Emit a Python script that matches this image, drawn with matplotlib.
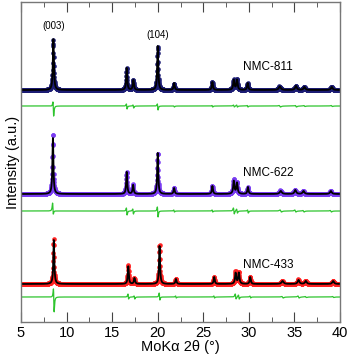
import numpy as np
import matplotlib
matplotlib.use("Agg")
import matplotlib.pyplot as plt

plt.rcParams['font.family'] = ['Liberation Sans', 'DejaVu Sans']

# peak positions (deg 2theta), heights and half widths
pos_811 = [8.55, 16.6, 17.33, 20.0, 21.8, 26.0, 28.35, 28.7, 29.87, 33.4, 35.17, 36.1, 39.1]
hgt_811 = [52, 22, 10, 44, 7, 8, 10, 10, 7, 3.5, 4, 3, 3]
pos_622 = [8.5, 16.6, 17.3, 20.0, 21.8, 26.0, 28.35, 28.7, 29.9, 33.5, 35.1, 36.0, 39.0]
hgt_622 = [56, 22, 9, 41, 6, 8, 13, 11, 7, 3, 4, 3, 3]
pos_433 = [8.6, 16.77, 17.45, 20.2, 22.0, 26.2, 28.55, 28.9, 30.15, 33.7, 35.45, 36.25, 39.25]
hgt_433 = [44, 18, 6, 38, 5, 7, 11, 11, 7, 3, 4, 3, 3]
hwhm = [0.065, 0.065, 0.07, 0.065, 0.07, 0.07, 0.08, 0.08, 0.07, 0.13, 0.11, 0.11, 0.11]

# difference curve: swing above / below zero at each peak (up, down)
dif_811 = [(4, 10), (2, 3), (1, 2), (2, 4), (0, 1), (0.5, 1), (1, 1), (1, 1), (0.5, 1), (0.5, 1), (0.5, 1), (0.5, 0.5), (0.5, 0.5)]
dif_622 = [(8, 3), (3, 4), (2, 3), (4, 6), (1, 1), (1, 1), (3, 3), (2, 2), (1, 2), (1, 1), (1, 1), (0.5, 1), (0.5, 1)]
dif_433 = [(8, 15), (3, 2), (1, 2), (4, 3), (1, 1), (1, 1), (3, 2), (2, 2), (1, 1), (0.5, 1), (1, 1), (0.5, 0.5), (0.5, 0.5)]

labels = ["NMC-811", "NMC-622", "NMC-433"]
colors = ["#1c1c74", "#7a3cf2", "#ff2222"]
base = [232, 128, 38]
dbase = [216, 111, 25]
label_y = [255, 149, 57]

x = np.arange(5, 40.001, 0.02)


def calc_curve(pos, hgt):
    y = np.zeros_like(x)
    for p, h, g in zip(pos, hgt, hwhm):
        y += h / (1 + ((x - p) / g) ** 2)
    return y


def diff_curve(pos, dif):
    y = np.zeros_like(x)
    for p, (u, d), g in zip(pos, dif, hwhm):
        t = (x - p) / g
        lor = 1 / (1 + t ** 2)
        der = 2 * t / (1 + t ** 2) ** 2 / (3 * np.sqrt(3) / 8)
        a = (u + d) / 2
        b = (d - u) / 1.5
        y += -a * der - b * lor
    return y


fig = plt.figure(figsize=(3.5, 3.59), dpi=100)
ax = fig.add_axes([21 / 350, 37 / 359, 319 / 350, 320 / 359])

for i in range(3):
    pos, hgt, dif = [(pos_811, hgt_811, dif_811), (pos_622, hgt_622, dif_622),
                     (pos_433, hgt_433, dif_433)][i]
    calc = calc_curve(pos, hgt)
    dc = diff_curve(pos, dif)
    obs = calc + dc
    ax.plot(x, base[i] + obs, 'o', color=colors[i], ms=3.3, mew=0)
    ax.plot(x, base[i] + calc, color='black', lw=1.3)
    ax.plot(x, dbase[i] + dc, color='#2ec42e', lw=0.9)
    ax.text(32.1, label_y[i], labels[i], fontsize=8.5, ha='center', va='center')

ax.text(8.55, 296, "(003)", fontsize=7, ha='center', va='center')
ax.text(20.0, 287, "(104)", fontsize=7, ha='center', va='center')

ax.set_xlim(5, 40)
ax.set_ylim(0, 320)
ax.set_xticks(np.arange(5, 41, 5))
ax.set_xticks(np.arange(7.5, 40, 5), minor=True)
ax.set_yticks([])
ax.tick_params(axis='x', which='both', direction='in', top=True, bottom=True,
               labelsize=10.5, color='#444444', pad=3)
ax.tick_params(axis='x', which='major', length=7)
ax.tick_params(axis='x', which='minor', length=3.6)
for s in ax.spines.values():
    s.set_color('#777777')
    s.set_linewidth(1.0)
ax.set_xlabel("MoKα 2θ (°)", fontsize=10.5, labelpad=0)
ax.set_ylabel("Intensity (a.u.)", fontsize=10.5, labelpad=1)

fig.savefig("out.png", dpi=100)
